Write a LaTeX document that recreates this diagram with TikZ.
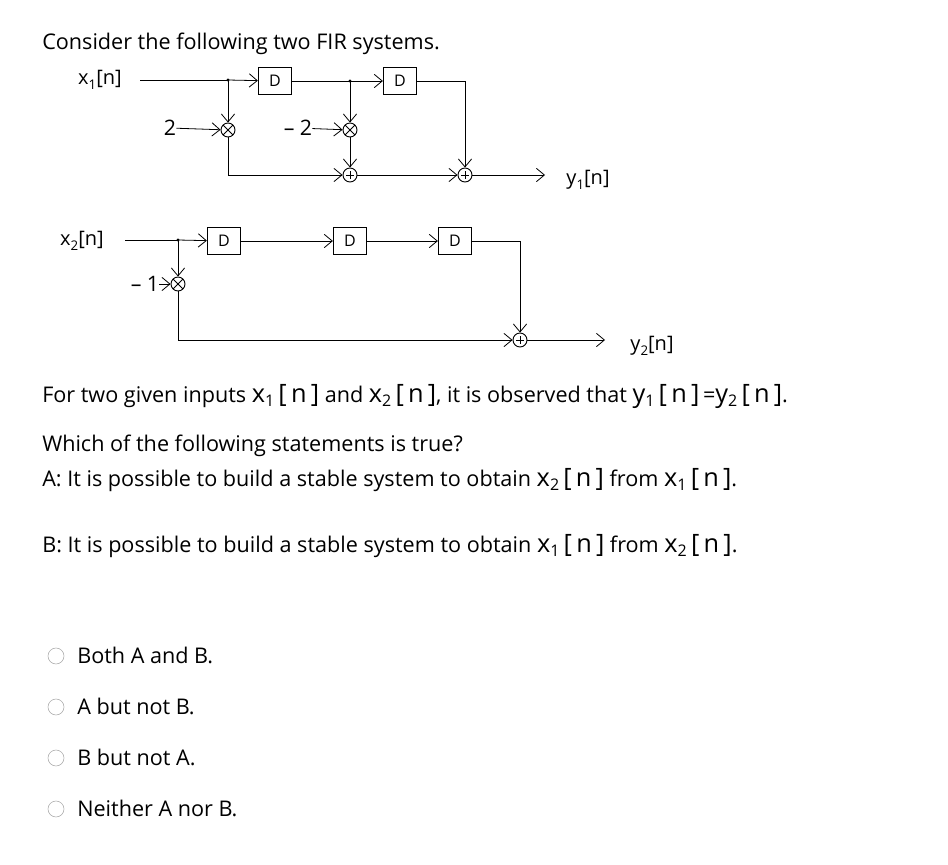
\documentclass[tikz,border=0pt]{standalone}
\usepackage{fontspec}
\setmainfont{Open Sans}
\usetikzlibrary{arrows.meta}
\newcommand\mysig[2]{{\fontsize{19}{19}\selectfont #1\raisebox{-3pt}{\fontsize{12}{12}\selectfont #2}\,[\,n\,]}}
\newcommand\dsig[2]{{\fontsize{15}{15}\selectfont #1\raisebox{-4pt}{\fontsize{10}{10}\selectfont #2}[n]}}
\begin{document}
\begin{tikzpicture}[x=0.75pt,y=-0.75pt,
  sig/.style={draw,line width=0.6pt,-{Straight Barb[length=6pt,width=10pt]}},
  ln/.style={draw,line width=0.6pt},
  dl/.style={draw,line width=0.7pt,minimum width=25pt,minimum height=20pt,inner sep=0pt,font=\large},
  op/.style={draw,circle,line width=0.7pt,minimum size=10.5pt,inner sep=0pt},
  mul/.style={op,path picture={\draw[line width=0.6pt] ([shift={(1.5pt,1.5pt)}]path picture bounding box.south west)--([shift={(-1.5pt,-1.5pt)}]path picture bounding box.north east) ([shift={(1.5pt,-1.5pt)}]path picture bounding box.north west)--([shift={(-1.5pt,1.5pt)}]path picture bounding box.south east);}},
  add/.style={op,path picture={\draw[line width=0.6pt] ([yshift=-2.5pt]path picture bounding box.north)--([yshift=2.5pt]path picture bounding box.south) ([xshift=2.5pt]path picture bounding box.west)--([xshift=-2.5pt]path picture bounding box.east);}},
  txt/.style={anchor=west,inner sep=0pt,font=\fontsize{16.2}{19}\selectfont},
  hl/.style={inner sep=0pt,font=\fontsize{16}{19}\selectfont},
  radio/.style={draw=gray!70,circle,minimum size=12pt,inner sep=0pt}]
\useasboundingbox (0,0) rectangle (948,864);
\node[txt] (t0) at (42,44) {Consider the following two FIR systems.};
% system 1
\node[hl] (x1) at (100,80) {\dsig{x}{1}};
\coordinate (s0) at (140,80);
\coordinate (p1) at (228,80);
\node[dl] (d1) at (275,81) {D};
\coordinate (p2) at (350,81);
\node[dl] (d2) at (400,81) {D};
\node[mul] (m1) at (228,130) {};
\node[mul] (m2) at (350,130) {};
\node[hl] (g1) at (170,128) {2};
\node[hl] (g2) at (298,128) {– 2};
\node[add] (a1) at (350,175) {};
\node[add] (a2) at (465,175) {};
\coordinate (c1) at (228,175);
\coordinate (c2) at (465,81);
\node[hl] (y1) at (588,180) {\dsig{y}{1}};
\coordinate (o1) at (545,175);
\fill (p1) circle (1.3pt) (p2) circle (1.3pt);
\path[ln] (s0) -- (p1);
\path[sig] (p1) -- (d1);
\path[sig] (d1) -- (d2);
\path[sig] (p1) -- (m1);
\path[sig] (p2) -- (m2);
\path[sig] (g1) -- (m1);
\path[sig] (g2) -- (m2);
\path[ln] (m1) -- (c1);
\path[sig] (c1) -- (a1);
\path[sig] (m2) -- (a1);
\path[sig] (a1) -- (a2);
\path[ln] (d2) -- (c2);
\path[sig] (c2) -- (a2);
\path[sig] (a2) -- (o1);
% system 2
\node[hl] (x2) at (82,241) {\dsig{x}{2}};
\coordinate (s1) at (125,240);
\coordinate (p3) at (178,240);
\node[dl] (e1) at (224,241) {D};
\node[dl] (e2) at (350,241) {D};
\node[dl] (e3) at (455,241) {D};
\node[mul] (m3) at (178,284) {};
\node[hl] (g3) at (145,284) {– 1};
\coordinate (c3) at (178,340);
\coordinate (c4) at (520,241);
\node[add] (a3) at (520,340) {};
\coordinate (o2) at (605,340);
\node[hl] (y2) at (652,346) {\dsig{y}{2}};
\fill (p3) circle (1.3pt);
\path[ln] (s1) -- (p3);
\path[sig] (p3) -- (e1);
\path[sig] (e1) -- (e2);
\path[sig] (e2) -- (e3);
\path[sig] (p3) -- (m3);
\path[sig] (g3) -- (m3);
\path[ln] (m3) -- (c3);
\path[sig] (c3) -- (a3);
\path[ln] (e3) -- (c4);
\path[sig] (c4) -- (a3);
\path[sig] (a3) -- (o2);
% text
\node[txt] (t1) at (42,396) {For two given inputs \mysig{x}{1} and \mysig{x}{2}, it is observed that \mysig{y}{1}\,=\mysig{y}{2}.};
\node[txt] (t2) at (42,446) {Which of the following statements is true?};
\node[txt] (t3) at (42,480) {A: It is possible to build a stable system to obtain \mysig{x}{2} from \mysig{x}{1}.};
\node[txt] (t4) at (42,546) {B: It is possible to build a stable system to obtain \mysig{x}{1} from \mysig{x}{2}.};
\node[radio] (r1) at (56,656) {};
\node[radio] (r2) at (56,707) {};
\node[radio] (r3) at (56,758) {};
\node[radio] (r4) at (56,809) {};
\node[txt] (o1t) at (77,655) {Both A and B.};
\node[txt] (o2t) at (77,706) {A but not B.};
\node[txt] (o3t) at (77,757) {B but not A.};
\node[txt] (o4t) at (77,808) {Neither A nor B.};
\end{tikzpicture}
\end{document}
